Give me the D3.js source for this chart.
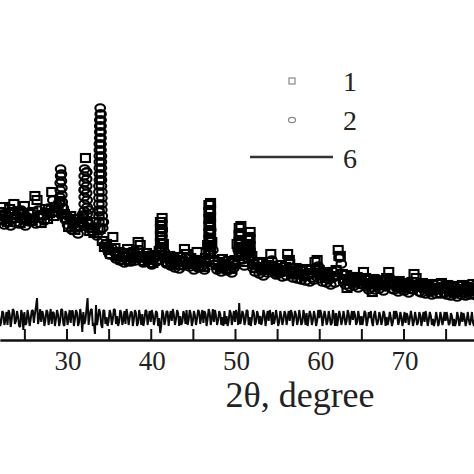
<!DOCTYPE html>
<html>
<head>
<meta charset="utf-8">
<script src="https://cdn.jsdelivr.net/npm/d3@7/dist/d3.min.js"></script>
<style>
  html, body { margin: 0; padding: 0; background: #fff; }
  svg { display: block; }
  .axis text { font-family: "Liberation Serif", "DejaVu Serif", serif; fill: #222; }
</style>
</head>
<body>
<div id="chart"></div>
<script>
// XRD patterns: samples 1, 2 (markers) and 6 (line)
// intensities in arbitrary units, sampled every 0.25 deg
const STEP = 0.25;
const START1 = 22;      // sample 1 and 6 start angle
const START2 = 22.125;  // sample 2 (and the second half of 6) sit between them

// sample 1 (squares)
const counts1 = [
    128, 120, 133, 124,  118, 131, 126, 136,  // 22, 23
    122, 129, 117, 127,  134, 121, 126, 119,  // 24, 25
    128, 144, 140, 122,  117, 125, 131, 121,  // 26, 27
    127, 148, 124, 133,  128, 139, 131, 126,  // 28, 29
    122, 113, 124, 117,  110, 121, 114, 118,  // 30, 31
    124, 182, 116, 109,  112, 107, 118, 110,  // 32, 33
    111, 99, 93, 96,     90, 86, 103, 92,     // 34, 35
    84, 88, 80, 87,      83, 91, 79, 86,      // 36, 37
    88, 82, 98, 95,      84, 79, 87, 81,      // 38, 39
    83, 77, 85, 80,      89, 108, 96, 82,     // 40, 41
    78, 84, 76, 82,      80, 75, 83, 79,      // 42, 43
    91, 86, 78, 82,      76, 80, 88, 74,      // 44, 45
    79, 73, 82, 95,      118, 98, 80, 75,     // 46, 47
    78, 72, 81, 76,      74, 79, 71, 77,      // 48, 49
    80, 96, 104, 86,     78, 88, 100, 90,     // 50, 51
    84, 76, 72, 78,      73, 77, 70, 75,      // 52, 53
    78, 86, 74, 70,      72, 68, 75, 70,      // 54, 55
    73, 86, 76, 69,      67, 72, 66, 71,      // 56, 57
    69, 64, 70, 66,      71, 67, 78, 80,      // 58, 59
    70, 65, 68, 63,      66, 62, 68, 64,      // 60, 61
    70, 90, 84, 66,      61, 65, 60, 63,      // 62, 63
    62, 58, 63, 60,      59, 68, 62, 57,      // 64, 65
    60, 56, 61, 58,      57, 60, 55, 59,      // 66, 67
    62, 68, 58, 56,      58, 54, 59, 55,      // 68, 69
    57, 53, 56, 54,      58, 66, 62, 55,      // 70, 71
    53, 57, 52, 56,      54, 50, 55, 52,      // 72, 73
    56, 52, 57, 53,      51, 55, 50, 54,      // 74, 75
    53, 49, 54, 51,      55, 50, 53, 49,      // 76, 77
    52, 56, 51, 55                            // 78
];

// sample 1, extra points on the steep reflections [angle, intensity]
const peaks1 = [
    [41.15, 90], [41.15, 97], [41.15, 104], [41.15, 111], [41.15, 118],
    [41.35, 122], [41.35, 115], [41.35, 108], [41.35, 100], [41.35, 93],
    [46.9, 86], [46.9, 93], [46.9, 100], [46.9, 107], [46.9, 114], [46.9, 121], [46.9, 128], [46.9, 135],
    [47.1, 137], [47.1, 130], [47.1, 123], [47.1, 116], [47.1, 109], [47.1, 102], [47.1, 95], [47.1, 88],
    [50.5, 84], [50.5, 91], [50.5, 98], [50.5, 105], [50.5, 112],
    [50.7, 114], [50.7, 107], [50.7, 100], [50.7, 93], [50.7, 86],
    [51.6, 82], [51.6, 89], [51.6, 96], [51.6, 103],
    [51.8, 108], [51.8, 101], [51.8, 94], [51.8, 87],
    [56.45, 80], [62.35, 84], [63.3, 52], [66.3, 48]
];

// sample 2 (circles)
const counts2 = [
    119, 126, 115, 123,  128, 114, 121, 117,  // 22, 23
    125, 116, 130, 120,  114, 123, 118, 127,  // 24, 25
    121, 116, 130, 125,  124, 119, 127, 132,  // 26, 27
    131, 140, 128, 135,  138, 125, 132, 120,  // 28, 29
    115, 122, 110, 118,  112, 106, 118, 125,  // 30, 31
    150, 168, 130, 112,  108, 113, 104, 128,  // 32, 33
    160, 118, 96, 90,    85, 92, 88, 81,      // 34, 35
    86, 79, 84, 77,      80, 86, 78, 83,      // 36, 37
    79, 85, 90, 82,      77, 83, 79, 85,      // 38, 39
    75, 81, 78, 84,      92, 110, 88, 76,     // 40, 41
    80, 74, 79, 72,      77, 71, 78, 74,      // 42, 43
    82, 76, 73, 79,      70, 76, 72, 78,      // 44, 45
    74, 70, 77, 86,      110, 90, 76, 70,     // 46, 47
    73, 68, 75, 70,      69, 74, 67, 72,      // 48, 49
    75, 90, 98, 80,      74, 84, 95, 82,      // 50, 51
    72, 68, 74, 66,      69, 64, 71, 67,      // 52, 53
    72, 80, 68, 65,      66, 70, 63, 68,      // 54, 55
    64, 79, 70, 62,      65, 61, 67, 60,      // 56, 57
    63, 59, 65, 58,      62, 60, 70, 74,      // 58, 59
    61, 58, 63, 57,      60, 55, 62, 57,      // 60, 61
    64, 82, 76, 58,      55, 59, 53, 57,      // 62, 63
    54, 57, 52, 56,      55, 62, 53, 50,      // 64, 65
    52, 56, 50, 54,      51, 55, 49, 53,      // 66, 67
    56, 62, 51, 50,      53, 48, 52, 50,      // 68, 69
    49, 52, 47, 51,      50, 58, 54, 48,      // 70, 71
    47, 51, 46, 50,      48, 45, 49, 46,      // 72, 73
    50, 46, 51, 47,      45, 48, 44, 47,      // 74, 75
    46, 43, 48, 45,      47, 44, 49, 45,      // 76, 77
    46, 50, 44, 49                            // 78
];

// sample 2, stacked points on the strong reflections
const peaks2 = [
    [29.2, 136], [29.2, 143], [29.25, 150], [29.25, 157], [29.3, 164], [29.3, 171],
    [29.4, 166], [29.4, 159], [29.45, 152], [29.45, 145], [29.5, 138],
    [32.1, 115], [32.1, 122], [32.1, 129], [32.1, 136], [32.1, 143], [32.1, 150], [32.1, 157], [32.1, 164], [32.15, 171],
    [32.4, 168], [32.4, 161], [32.4, 154], [32.4, 147], [32.45, 140], [32.45, 133], [32.45, 126], [32.5, 119],
    [33.85, 118], [33.85, 124], [33.85, 130], [33.85, 136], [33.85, 142], [33.85, 148], [33.85, 154],
    [33.9, 160], [33.9, 166], [33.9, 172], [33.9, 178], [33.9, 184], [33.9, 190], [33.9, 196],
    [33.95, 202], [33.95, 208], [33.95, 214], [33.95, 220], [34.0, 226], [34.0, 232],
    [34.1, 226], [34.1, 220], [34.1, 214], [34.1, 208], [34.1, 202], [34.1, 196], [34.1, 190],
    [34.15, 184], [34.15, 178], [34.15, 172], [34.15, 166], [34.15, 160], [34.15, 154],
    [34.2, 148], [34.2, 142], [34.2, 136], [34.2, 130], [34.25, 124], [34.25, 118], [34.3, 112]
];

// sample 6 (line), points at 22, 22.25, ...
const counts6a = [
    24, 18, 27, 20,  15, 26, 21, 29,  // 22, 23
    19, 23, 13, 25,  28, 17, 24, 21,  // 24, 25
    30, 26, 42, 22,  18, 25, 20, 28,  // 26, 27
    23, 16, 27, 21,  25, 19, 30, 14,  // 28, 29
    26, 22, 17, 29,  21, 27, 18, 24,  // 30, 31
    28, 20, 42, 24,  31, 17, 35, 22,  // 32, 33
    27, 12, 29, 23,  19, 26, 21, 30,  // 34, 35
    24, 18, 27, 20,  16, 25, 22, 28,  // 36, 37
    21, 27, 17, 24,  26, 20, 29, 23,  // 38, 39
    18, 25, 21, 27,  22, 15, 26, 20,  // 40, 41
    28, 23, 19, 25,  21, 27, 24, 18,  // 42, 43
    25, 30, 20, 26,  19, 24, 22, 28,  // 44, 45
    23, 17, 26, 21,  27, 22, 18, 24,  // 46, 47
    20, 26, 23, 29,  24, 19, 27, 22,  // 48, 49
    18, 25, 37, 21,  26, 20, 29, 23,  // 50, 51
    21, 27, 18, 25,  24, 20, 26, 22,  // 52, 53
    19, 25, 28, 21,  23, 18, 24, 20,  // 54, 55
    26, 22, 19, 27,  21, 25, 20, 23,  // 56, 57
    18, 24, 27, 22,  25, 20, 23, 19,  // 58, 59
    22, 26, 21, 24,  19, 23, 17, 25,  // 60, 61
    27, 21, 24, 20,  23, 19, 26, 22,  // 62, 63
    20, 25, 18, 23,  24, 21, 27, 19,  // 64, 65
    22, 18, 25, 21,  19, 24, 20, 26,  // 66, 67
    23, 20, 22, 18,  21, 25, 19, 23,  // 68, 69
    20, 17, 24, 21,  23, 19, 22, 18,  // 70, 71
    25, 21, 18, 23,  20, 24, 21, 19,  // 72, 73
    22, 18, 23, 20,  19, 22, 17, 24,  // 74, 75
    21, 18, 23, 20,  18, 22, 19, 21,  // 76, 77
    20, 17, 22, 19                    // 78
];

// sample 6, points at 22.125, 22.375, ...
const counts6b = [
    14, 29, 15, 28,  30, 13, 31, 16,  // 22, 23
    29, 14, 30, 10,  15, 30, 14, 29,  // 24, 25
    17, 33, 16, 31,  29, 14, 30, 15,  // 26, 27
    31, 28, 14, 30,  14, 31, 16, 29,  // 28, 29
    15, 30, 29, 14,  30, 14, 31, 8,   // 30, 31
    16, 31, 15, 30,  14, 6, 15, 31,   // 32, 33
    15, 30, 16, 14,  30, 15, 31, 16,  // 34, 35
    14, 30, 15, 29,  31, 15, 28, 14,  // 36, 37
    30, 14, 30, 15,  14, 30, 15, 29,  // 38, 39
    30, 15, 29, 14,  7, 30, 15, 29,   // 40, 41
    14, 29, 31, 15,  30, 14, 15, 29,  // 42, 43
    16, 15, 30, 14,  29, 15, 30, 16,  // 44, 45
    30, 29, 14, 31,  15, 31, 30, 15,  // 46, 47
    29, 15, 14, 16,  14, 30, 15, 29,  // 48, 49
    30, 15, 16, 29,  15, 30, 15, 14,  // 50, 51
    30, 15, 29, 16,  15, 30, 14, 29,  // 52, 53
    30, 15, 16, 30,  14, 29, 15, 29,  // 54, 55
    15, 29, 30, 14,  29, 15, 30, 15,  // 56, 57
    30, 15, 14, 29,  15, 29, 14, 30,  // 58, 59
    30, 14, 29, 15,  29, 15, 30, 14,  // 60, 61
    14, 29, 15, 29,  15, 30, 15, 29,  // 62, 63
    29, 15, 29, 15,  15, 29, 14, 28,  // 64, 65
    29, 14, 29, 15,  28, 15, 29, 14,  // 66, 67
    15, 28, 14, 29,  29, 15, 28, 14,  // 68, 69
    28, 27, 15, 29,  14, 28, 15, 28,  // 70, 71
    14, 28, 29, 14,  28, 15, 14, 28,  // 72, 73
    14, 28, 15, 28,  28, 15, 27, 14,  // 74, 75
    14, 28, 14, 28,  27, 14, 28, 15,  // 76, 77
    28, 14, 27, 14                    // 78
];

const majorTicks = [20, 30, 40, 50, 60, 70, 80];
const minorTicks = [25, 35, 45, 55, 65, 75];
const legendItems = ['1', '2', '6'];
const xTitle = '2\u03b8, degree';

const width = 474, height = 474;

const toPoints = (counts, start) => counts.map((v, i) => [start + i * STEP, v]);
const series1 = toPoints(counts1, START1).concat(peaks1);
const series2 = toPoints(counts2, START2).concat(peaks2);
const series6 = toPoints(counts6a, START1).concat(toPoints(counts6b, START2))
    .sort((a, b) => a[0] - b[0]);

const x = d3.scaleLinear().domain([22.107, 78.37]).range([0, width]);
const y = d3.scaleLinear().domain([0, 250]).range([340, 90]);

const svg = d3.select('#chart').append('svg')
    .attr('width', width)
    .attr('height', height);

// line pattern (sample 6)
svg.append('path')
    .datum(series6)
    .attr('fill', 'none')
    .attr('stroke', '#0a0a0a')
    .attr('stroke-width', 2)
    .attr('stroke-linejoin', 'bevel')
    .attr('d', d3.line().x(d => x(d[0])).y(d => y(d[1])));

// squares
svg.append('g')
    .selectAll('rect')
    .data(series1)
    .enter().append('rect')
    .attr('x', d => x(d[0]) - 4.5)
    .attr('y', d => y(d[1]) - 4)
    .attr('width', 9)
    .attr('height', 8)
    .attr('fill', 'none')
    .attr('stroke', '#000')
    .attr('stroke-width', 2.1);

// circles
svg.append('g')
    .selectAll('ellipse')
    .data(series2)
    .enter().append('ellipse')
    .attr('cx', d => x(d[0]))
    .attr('cy', d => y(d[1]))
    .attr('rx', 4.8)
    .attr('ry', 3.8)
    .attr('fill', 'none')
    .attr('stroke', '#000')
    .attr('stroke-width', 2.1);

// x axis, ticks pointing inward
const axisG = svg.append('g')
    .attr('class', 'axis')
    .attr('transform', 'translate(0,340)');

axisG.call(d3.axisBottom(x)
    .tickValues(majorTicks)
    .tickSizeInner(-11)
    .tickSizeOuter(0)
    .tickPadding(11)
    .tickFormat(d3.format('d')));

axisG.append('g').call(d3.axisBottom(x)
    .tickValues(minorTicks)
    .tickSizeInner(-11)
    .tickSizeOuter(0)
    .tickFormat(''));

axisG.selectAll('path.domain').attr('stroke', '#111').attr('stroke-width', 2);
axisG.selectAll('.tick line').attr('stroke', '#111').attr('stroke-width', 2);
axisG.selectAll('.tick text')
    .attr('font-size', 27)
    .attr('font-family', '"Liberation Serif", serif')
    .attr('dx', 1);

svg.append('text')
    .attr('x', 300)
    .attr('y', 407)
    .attr('text-anchor', 'middle')
    .attr('font-family', '"Liberation Serif", serif')
    .attr('font-size', 36)
    .attr('fill', '#222')
    .text(xTitle);

// legend
const legend = svg.append('g').attr('class', 'legend');
const legendY = [81, 120, 158];

legend.append('rect')
    .attr('x', 289).attr('y', legendY[0] - 3)
    .attr('width', 6).attr('height', 6)
    .attr('fill', 'none').attr('stroke', '#888').attr('stroke-width', 1.2);

legend.append('ellipse')
    .attr('cx', 292).attr('cy', legendY[1])
    .attr('rx', 3.5).attr('ry', 2.6)
    .attr('fill', 'none').attr('stroke', '#888').attr('stroke-width', 1.2);

legend.append('line')
    .attr('x1', 250).attr('x2', 333)
    .attr('y1', legendY[2] - 1).attr('y2', legendY[2] - 1)
    .attr('stroke', '#333').attr('stroke-width', 2.5);

legend.selectAll('text')
    .data(legendItems)
    .enter().append('text')
    .attr('x', 343)
    .attr('y', (d, i) => legendY[i] + 10)
    .attr('font-family', '"Liberation Serif", serif')
    .attr('font-size', 28)
    .attr('fill', '#222')
    .text(d => d);
</script>
</body>
</html>
